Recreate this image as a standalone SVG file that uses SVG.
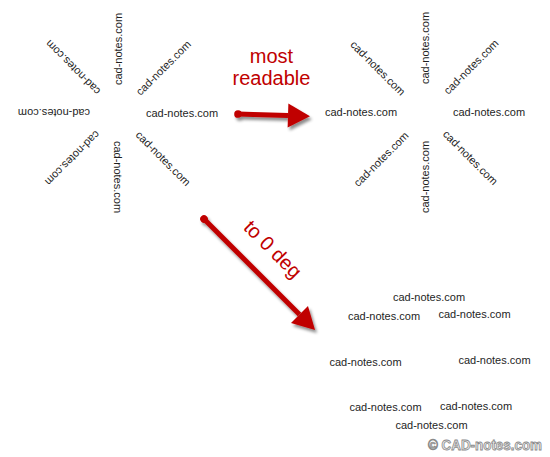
<svg xmlns="http://www.w3.org/2000/svg" width="550" height="457" viewBox="0 0 550 457">
<style>
.t{font-family:"Liberation Sans",Arial,sans-serif;font-size:11px;fill:#1e1e1e;text-anchor:middle}
.lbl{font-family:"Liberation Sans",Arial,sans-serif;font-size:20px;fill:#c00000;text-anchor:middle}
.arr{stroke:#c00000;stroke-width:5;fill:none}
.wm{font-family:"Liberation Sans",Arial,sans-serif;font-weight:bold;font-size:14px;fill:#ececec;stroke:#8a8a8a;stroke-width:0.8}
</style>
<defs>
<filter id="sh" x="-20%" y="-20%" width="150%" height="150%">
<feDropShadow dx="2" dy="3" stdDeviation="1.8" flood-color="#000" flood-opacity="0.45"/>
</filter>
<marker id="head" markerUnits="userSpaceOnUse" markerWidth="24" markerHeight="26" refX="0" refY="12" orient="auto" overflow="visible">
<path d="M0,0 L22,12 L0,24 z" fill="#c00000"/>
</marker>
<marker id="dot" markerUnits="userSpaceOnUse" markerWidth="10" markerHeight="10" refX="5" refY="5" orient="auto" overflow="visible">
<circle cx="5" cy="5" r="3.8" fill="#c00000"/>
</marker>
</defs>
<rect width="550" height="457" fill="#fff"/>

<!-- left star: original angles -->
<g id="left-star">
<g id="l0"><text class="t" transform="translate(182,113) rotate(0)" y="4">cad-notes.com</text></g>
<g id="l45u"><text class="t" transform="translate(163.3,67.7) rotate(-45)" y="4">cad-notes.com</text></g>
<g id="l90u"><text class="t" transform="translate(118,49) rotate(-90)" y="4">cad-notes.com</text></g>
<g id="l135u"><text class="t" transform="translate(72.7,67.7) rotate(-135)" y="4">cad-notes.com</text></g>
<g id="l180"><text class="t" transform="translate(54,113) rotate(180)" y="4">cad-notes.com</text></g>
<g id="l135d"><text class="t" transform="translate(72.7,158.3) rotate(135)" y="4">cad-notes.com</text></g>
<g id="l90d"><text class="t" transform="translate(118,177) rotate(90)" y="4">cad-notes.com</text></g>
<g id="l45d"><text class="t" transform="translate(163.3,158.3) rotate(45)" y="4">cad-notes.com</text></g>
</g>

<!-- right star: most readable -->
<g id="right-star">
<g id="r0"><text class="t" transform="translate(489,112) rotate(0)" y="4">cad-notes.com</text></g>
<g id="r45u"><text class="t" transform="translate(471,66.7) rotate(-45)" y="4">cad-notes.com</text></g>
<g id="r90u"><text class="t" transform="translate(425,48) rotate(-90)" y="4">cad-notes.com</text></g>
<g id="r135u"><text class="t" transform="translate(378,68) rotate(45)" y="4">cad-notes.com</text></g>
<g id="r180"><text class="t" transform="translate(361,112) rotate(0)" y="4">cad-notes.com</text></g>
<g id="r135d"><text class="t" transform="translate(381,159) rotate(-45)" y="4">cad-notes.com</text></g>
<g id="r90d"><text class="t" transform="translate(425,177) rotate(-90)" y="4">cad-notes.com</text></g>
<g id="r45d"><text class="t" transform="translate(470.5,157.5) rotate(45)" y="4">cad-notes.com</text></g>
</g>

<!-- bottom: all at 0 deg -->
<g id="bottom-set">
<g id="b90u"><text class="t" x="429" y="301">cad-notes.com</text></g>
<g id="b135u"><text class="t" x="384" y="320">cad-notes.com</text></g>
<g id="b45u"><text class="t" x="474.5" y="318">cad-notes.com</text></g>
<g id="b180"><text class="t" x="365.5" y="366">cad-notes.com</text></g>
<g id="b0"><text class="t" x="494.5" y="364">cad-notes.com</text></g>
<g id="b135d"><text class="t" x="385.5" y="411">cad-notes.com</text></g>
<g id="b45d"><text class="t" x="476" y="410">cad-notes.com</text></g>
<g id="b90d"><text class="t" x="431.5" y="429">cad-notes.com</text></g>
</g>

<!-- connectors -->
<g id="connectors" filter="url(#sh)">
<path class="arr" d="M238,114 L288,115.5" marker-start="url(#dot)" marker-end="url(#head)"/>
<path class="arr" d="M204,219 L299.5,314.5" marker-start="url(#dot)" marker-end="url(#head)"/>
</g>

<g id="labels">
<text class="lbl" x="271.5" y="63">most</text>
<text class="lbl" x="271.5" y="85">readable</text>
<text class="lbl" transform="translate(268,254) rotate(45)">to 0 deg</text>
</g>

<g id="watermark">
<text class="wm" x="428" y="450" textLength="114" lengthAdjust="spacingAndGlyphs">© CAD-notes.com</text>
</g>
</svg>
